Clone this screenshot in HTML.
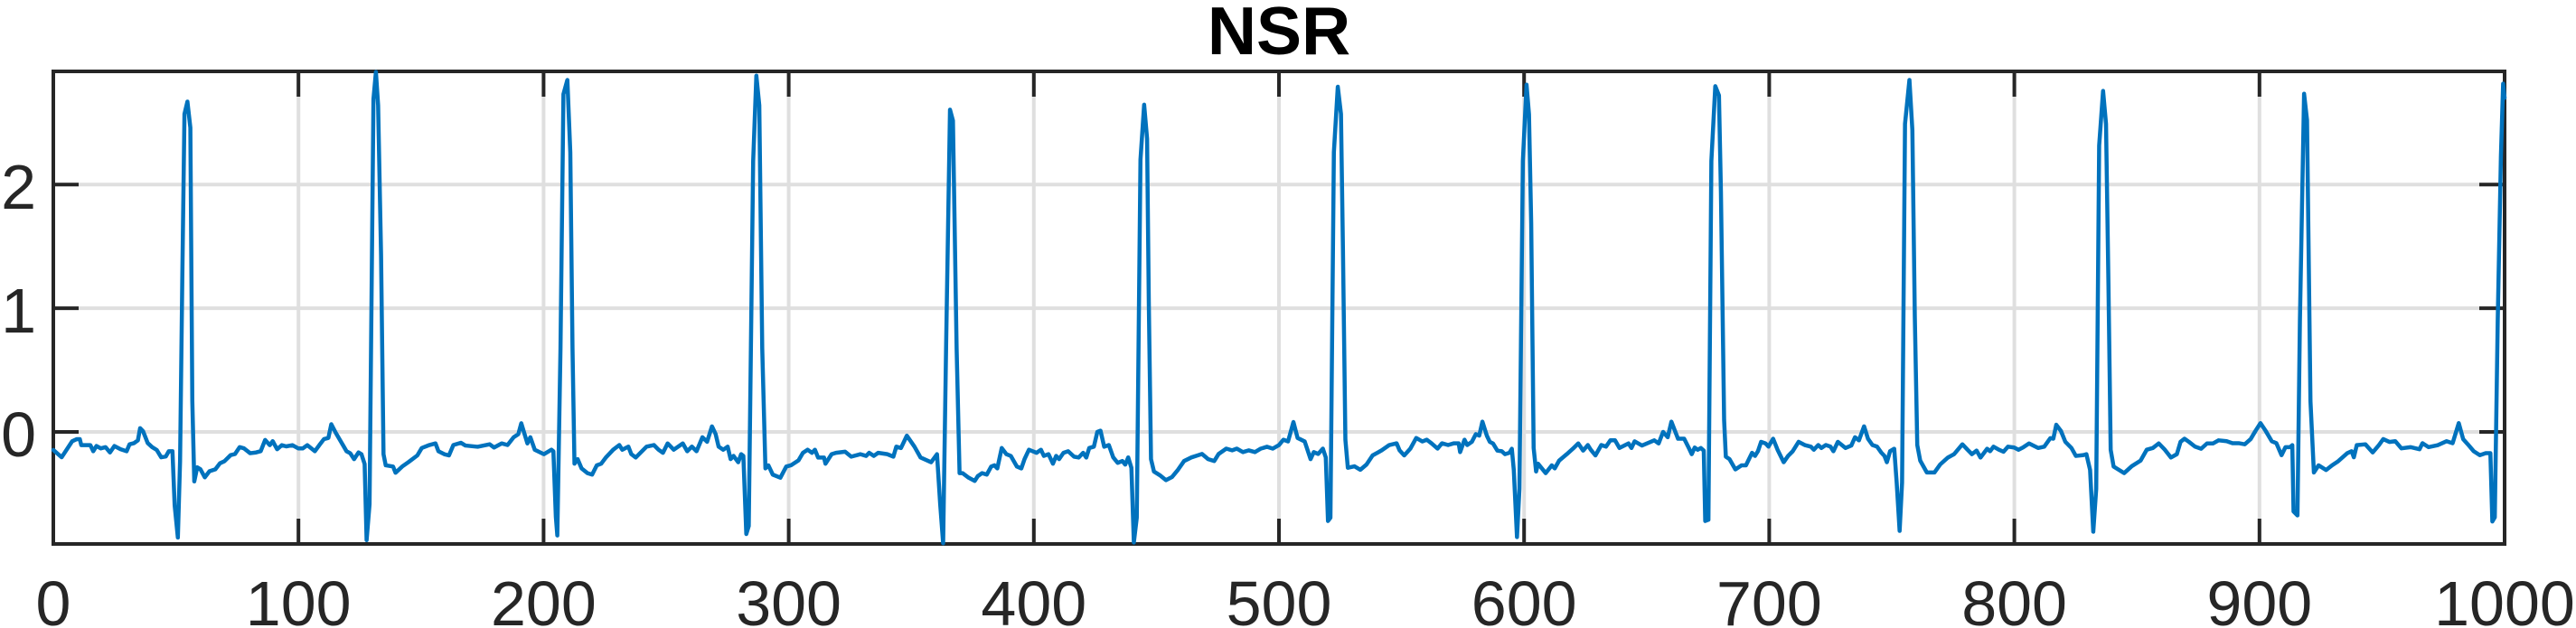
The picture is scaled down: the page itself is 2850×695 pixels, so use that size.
<!DOCTYPE html>
<html>
<head>
<meta charset="utf-8">
<style>
html,body{margin:0;padding:0;background:#fff;}
svg{display:block;}
text{font-family:"Liberation Sans",Arial,Helvetica,sans-serif;}
</style>
</head>
<body>
<svg xmlns="http://www.w3.org/2000/svg" width="2850" height="695" viewBox="0 0 2850 695">
<rect x="0" y="0" width="2850" height="695" fill="#ffffff"/>
<!-- grid -->
<g stroke="#dfdfdf" stroke-width="4">
<line x1="330.2" y1="79" x2="330.2" y2="602"/>
<line x1="601.4" y1="79" x2="601.4" y2="602"/>
<line x1="872.6" y1="79" x2="872.6" y2="602"/>
<line x1="1143.8" y1="79" x2="1143.8" y2="602"/>
<line x1="1415" y1="79" x2="1415" y2="602"/>
<line x1="1686.2" y1="79" x2="1686.2" y2="602"/>
<line x1="1957.4" y1="79" x2="1957.4" y2="602"/>
<line x1="2228.6" y1="79" x2="2228.6" y2="602"/>
<line x1="2499.8" y1="79" x2="2499.8" y2="602"/>
<line x1="59" y1="478" x2="2771" y2="478"/>
<line x1="59" y1="341.1" x2="2771" y2="341.1"/>
<line x1="59" y1="204.2" x2="2771" y2="204.2"/>
</g>
<!-- axes box and ticks -->
<g stroke="#262626" stroke-width="4" fill="none">
<rect x="59" y="79" width="2712" height="523"/>
<path d="M330.2 602V574M601.4 602V574M872.6 602V574M1143.8 602V574M1415 602V574M1686.2 602V574M1957.4 602V574M2228.6 602V574M2499.8 602V574
M330.2 79V107M601.4 79V107M872.6 79V107M1143.8 79V107M1415 79V107M1686.2 79V107M1957.4 79V107M2228.6 79V107M2499.8 79V107
M59 478H87M59 341.1H87M59 204.2H87M2771 478H2743M2771 341.1H2743M2771 204.2H2743"/>
</g>
<!-- tick labels -->
<g font-size="70" fill="#262626" text-anchor="middle">
<text x="59" y="692">0</text>
<text x="330.2" y="692">100</text>
<text x="601.4" y="692">200</text>
<text x="872.6" y="692">300</text>
<text x="1143.8" y="692">400</text>
<text x="1415" y="692">500</text>
<text x="1686.2" y="692">600</text>
<text x="1957.4" y="692">700</text>
<text x="2228.6" y="692">800</text>
<text x="2499.8" y="692">900</text>
<text x="2771" y="692">1000</text>
</g>
<g font-size="70" fill="#262626" text-anchor="end">
<text x="40" y="505">0</text>
<text x="40" y="368">1</text>
<text x="40" y="231">2</text>
</g>
<!-- title -->
<text x="1415" y="60" font-size="75" font-weight="bold" fill="#000000" text-anchor="middle">NSR</text>
<!-- data -->
<g transform="translate(59,478) scale(2.712,-136.9)">
<polyline fill="none" stroke="#0072BD" stroke-width="4.5" stroke-linejoin="round" stroke-linecap="round" vector-effect="non-scaling-stroke" points="
0,-0.146 3.4,-0.205 7.7,-0.075 9.6,-0.058 10.8,-0.058 11.4,-0.107 15.1,-0.107 16.3,-0.156 17.6,-0.114 19.4,-0.133 21.3,-0.123 23.1,-0.166 24.9,-0.114 27.4,-0.14 29.9,-0.156 31.1,-0.1 32.9,-0.091 34.5,-0.068 35.4,0.03 36.6,0.006 38.5,-0.09 40.3,-0.123 42.2,-0.146 44,-0.205 45.9,-0.198 47.1,-0.156 48.6,-0.156 49.5,-0.594 50.8,-0.854 51.7,-0.24 52.6,1.22 53.5,2.57 54.7,2.67 55.9,2.46 56.7,0.25 57.5,-0.4 58.7,-0.286 60,-0.302 61.8,-0.367 63.7,-0.318 66.1,-0.302 68,-0.253 69.8,-0.237 72.3,-0.188 74.1,-0.179 76,-0.123 77.8,-0.133 80.3,-0.172 82.7,-0.166 84.6,-0.156 86.4,-0.065 88.3,-0.107 89.5,-0.075 91.3,-0.14 93.2,-0.107 95,-0.117 97.5,-0.107 99.9,-0.133 101.8,-0.133 103.6,-0.107 106.7,-0.156 108.5,-0.107 110.4,-0.058 112.2,-0.049 113.4,0.062 115.3,-0.01 117.7,-0.091 119.6,-0.156 121.1,-0.172 122.7,-0.22 124.5,-0.166
125.7,-0.18 127,-0.26 127.8,-0.875 129,-0.585 130.6,2.69 131.6,2.91 132.5,2.64 133.7,1.43 134.7,-0.18 135.6,-0.27 138.6,-0.28 139.6,-0.33 142.3,-0.28 144.8,-0.245 148.5,-0.19 150.3,-0.13 153.4,-0.106 155.9,-0.093 157.1,-0.156 159.5,-0.18 161.4,-0.19 163.2,-0.106 166.3,-0.088 168.1,-0.11 173.1,-0.12 178,-0.1 179.8,-0.126 182.9,-0.093 185.3,-0.106 187.8,-0.043 189.7,-0.018 190.9,0.07 193.4,-0.093 194.6,-0.043 196.4,-0.144 200.1,-0.18 203.2,-0.144 204,-0.156 205,-0.686 205.6,-0.837 206.9,0.676 208.1,2.73 209.7,2.845 210.9,2.26 211.8,0.676 212.6,-0.257 213.9,-0.22 215.5,-0.295 217.9,-0.333 219.8,-0.345 221.7,-0.27 223.5,-0.257 225.4,-0.207 228.4,-0.144 230.9,-0.106 232.1,-0.144 234.6,-0.119 235.8,-0.18 237.6,-0.207 242,-0.119 245,-0.106 246.9,-0.144 248.7,-0.169 250.6,-0.093 253.1,-0.144 256.8,-0.093 258.6,-0.156 260.5,-0.119 262.4,-0.156 264.8,-0.043 266.7,-0.08 268.7,0.045 270.2,-0.018 271.4,-0.119 273.3,-0.144
275.1,-0.119 276.3,-0.22 277.5,-0.194 279.4,-0.245 280.6,-0.18 281.5,-0.194 282.7,-0.825 283.7,-0.76 285.5,2.19 286.8,2.88 288,2.64 289.2,0.676 290.5,-0.295 291.7,-0.27 293.5,-0.345 296.6,-0.37 299,-0.28 300.9,-0.27 304,-0.23 305.8,-0.169 307.7,-0.144 309.5,-0.169 310.7,-0.144 312,-0.207 314.4,-0.207 315,-0.257 317.5,-0.18 319.3,-0.169 323,-0.16 325.5,-0.2 329.2,-0.18 331.6,-0.194 332.8,-0.169 334.7,-0.194 336.5,-0.169 340.2,-0.18 342.7,-0.2 343.9,-0.119 345.8,-0.13 348.2,-0.03 351.3,-0.119 353.8,-0.207 358.1,-0.245 360.5,-0.18 361.8,-0.585 363,-0.9 364.2,0.676 365.8,2.605 367,2.517 368.5,0.676 369.7,-0.333 370.9,-0.333 373.4,-0.37 375.9,-0.396 377.1,-0.358 378.9,-0.333 380.8,-0.345 382.6,-0.28 383.9,-0.27 385.1,-0.295 386.9,-0.13 388.8,-0.18 390.6,-0.194 393.1,-0.28 394.9,-0.295 396.2,-0.22 398,-0.144 401.1,-0.169 402.9,-0.144 404.1,-0.194 406,-0.18 407.8,-0.257 409.1,-0.194 410.3,-0.22 412.1,-0.169 414,-0.156 416.4,-0.2 418.3,-0.207 420.1,-0.169 421.4,-0.207 422.6,-0.13 424.5,-0.119 425.9,0 427.2,0.01 428.7,-0.12 430.6,-0.106 432.4,-0.206 434.2,-0.25 436.1,-0.235 437.3,-0.264 438.5,-0.206 439.8,-0.29 440.8,-0.894 442,-0.693 443.5,2.2 445,2.645 446.2,2.37 446.9,1.05 447.8,-0.22 449,-0.32 451.4,-0.35 453.9,-0.39 456.4,-0.364 458.8,-0.306 461.3,-0.235 464.3,-0.206 466.8,-0.19 468.6,-0.178 471.1,-0.22 473.6,-0.235 475.4,-0.178 478.5,-0.135 480.9,-0.149 482.8,-0.135 485.3,-0.163 487.7,-0.149 490.2,-0.163 492.6,-0.135 495.1,-0.12 497.5,-0.135 500,-0.106 501.8,-0.063 503.7,-0.077 505.9,0.08 507.6,-0.049 510.5,-0.077 512.9,-0.22 514.2,-0.163 516,-0.178 517.9,-0.135 519.1,-0.206 520,-0.72 521,-0.693 522.4,2.26 524,2.79 525.3,2.57 526.1,1.48 527.1,-0.063 528.1,-0.29 530.8,-0.278 533.2,-0.306 535.7,-0.264 538.2,-0.19 541.9,-0.149 545,-0.106 548,-0.092 549.2,-0.149 551.1,-0.19 553.6,-0.135 556,-0.049 558.5,-0.077 560.3,-0.063 562.2,-0.092 564.7,-0.135 566.5,-0.092 569,-0.106 571.4,-0.092 573.3,-0.092 573.9,-0.163 575.7,-0.063
576.8,-0.106 578.7,-0.08 580.3,-0.018 581.7,-0.03 583,0.083 584.8,-0.03 586,-0.08 587.3,-0.093 589.1,-0.151 590.9,-0.156 592.2,-0.18 594,-0.169 595,-0.136 595.8,-0.308 597.1,-0.85 598.1,-0.46 599.5,2.19 601,2.807 602,2.567 602.9,1.685 603.9,-0.13 604.9,-0.32 605.7,-0.257 608.8,-0.333 611.3,-0.27 612.5,-0.295 614.3,-0.232 617.4,-0.18 619.9,-0.136 622.1,-0.093 624.1,-0.151 626,-0.106 627.2,-0.144 629.1,-0.19 631.5,-0.106 633.4,-0.119 635.2,-0.068 637.1,-0.068 638.9,-0.13 642.6,-0.093 643.8,-0.13 645.1,-0.076 648.1,-0.11 653.1,-0.068 654.9,-0.093 656.7,0 658.6,-0.043 660.1,0.083 662.8,-0.055 665.3,-0.055 667.2,-0.13 668.4,-0.18 669.6,-0.126 670.8,-0.144 672.1,-0.13 673.3,-0.151 673.9,-0.72 675.2,-0.71 676.4,2.19 678,2.795 679.5,2.72 680.3,1.94 681.6,0.096 682.3,-0.2 683.8,-0.22 686.2,-0.303 688.7,-0.27 690.5,-0.27 693,-0.169 694.2,-0.194 695.4,-0.156 696.7,-0.08 698.5,-0.093 699.7,-0.119 701.6,-0.055 703.4,-0.144 705.9,-0.245 707.7,-0.194 709.6,-0.156 712,-0.08 714.5,-0.106 717,-0.119 718.2,-0.144 720,-0.106 721.3,-0.13 723.1,-0.106 725,-0.119 726.2,-0.156 728,-0.08
731.1,-0.13 733.5,-0.11 735,-0.043 736.6,-0.068 738.7,0.045 740.3,-0.055 742.1,-0.106 744,-0.119 745.8,-0.169 747,-0.194 748,-0.245 749.3,-0.156 751,-0.136 752,-0.41 753.2,-0.8 754.2,-0.41 755.4,2.49 757.2,2.845 758.4,2.44 759.4,0.928 760.4,-0.106 761.6,-0.232 764.3,-0.328 767.4,-0.328 769.8,-0.262 772.9,-0.207 775.4,-0.18 778.8,-0.1 780.9,-0.144 782.7,-0.18 784.6,-0.151 786.2,-0.207 788.9,-0.136 790.1,-0.156 791.5,-0.119 793.7,-0.144 795.6,-0.16 797.4,-0.119 799.9,-0.126 801.7,-0.144 803.5,-0.126 806,-0.093 809.7,-0.13 812.2,-0.119 814.7,-0.05 815.9,-0.055 817.1,0.058 819,0.008 820.8,-0.08 823.3,-0.13 825.1,-0.194 828.2,-0.187 829.4,-0.18 830.9,-0.308 832.2,-0.807 833.4,-0.46 834.6,2.315 836.2,2.757 837.4,2.49 838.4,1.18 839.3,-0.144 840.5,-0.28 841.7,-0.295 844.8,-0.333 847.9,-0.277 851.5,-0.232 854,-0.144 856.5,-0.13 858.9,-0.093 861.4,-0.144 863.9,-0.207 866.3,-0.18 867.8,-0.08 869.4,-0.055 871.2,-0.08 873.7,-0.119 876.2,-0.136 878.6,-0.093 881.1,-0.093 883.3,-0.068
886.6,-0.075 889,-0.091 891.5,-0.091 894,-0.1 896.4,-0.058 898.3,0.006 900.4,0.071 902.6,0.006 905,-0.075 906.9,-0.091 909,-0.188 910.6,-0.123 912.5,-0.123 913.4,-0.107 913.9,-0.643 915.5,-0.675 916.5,0.9 918.2,2.734 919.4,2.52 920.8,0.25 922.2,-0.328 924.1,-0.27 927.2,-0.308 929.6,-0.27 932.1,-0.237 935.8,-0.172 937.6,-0.156 938.5,-0.205 939.7,-0.107 943.2,-0.1 946.2,-0.166 948.7,-0.107 950.5,-0.058 953,-0.081 955.4,-0.075 957.9,-0.133 961.6,-0.123 965.3,-0.14 966.5,-0.091 969,-0.123 972.7,-0.107 976.3,-0.075 978.8,-0.091 981.3,0.071 983.1,-0.058 985,-0.1 987.4,-0.156 989.9,-0.188 992.3,-0.172 994.2,-0.172 995,-0.724 996,-0.69 997.2,0.9 998.5,2.23 999.4,2.815 1000,2.7"/>
</g>
</svg>
</body>
</html>
